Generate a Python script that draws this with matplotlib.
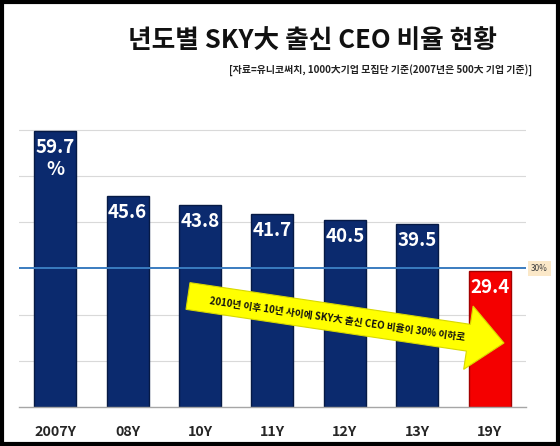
import matplotlib
matplotlib.use("Agg")
import matplotlib.pyplot as plt
from matplotlib.patches import FancyArrow, Rectangle

plt.rcParams['font.family'] = ['Noto Sans CJK KR', 'DejaVu Sans']

years = ['2007Y', '08Y', '10Y', '11Y', '12Y', '13Y', '19Y']
ratios = [59.7, 45.6, 43.8, 41.7, 40.5, 39.5, 29.4]
bar_colors = ['#0b2a6e'] * 6 + ['#f40000']
edge_colors = ['#061a45'] * 6 + ['#a30000']
value_labels = ['59.7\n%', '45.6', '43.8', '41.7', '40.5', '39.5', '29.4']
threshold = 30

title = '년도별 SKY大 출신 CEO 비율 현황'
subtitle = '[자료=유니코써치, 1000大기업 모집단 기준(2007년은 500大 기업 기준)]'
arrow_text = '2010년 이후 10년 사이에 SKY大 출신 CEO 비율이 30% 이하로'

fig = plt.figure(figsize=(5.6, 4.46), dpi=100)
ax = fig.add_axes([0.034, 0.0874, 0.905, 0.632])

x = range(len(years))
ax.bar(x, ratios, width=0.58, color=bar_colors, edgecolor=edge_colors,
       linewidth=1.0, zorder=2)

for i, (v, lab) in enumerate(zip(ratios, value_labels)):
    ax.annotate(lab, (i, v), xytext=(0, -5), textcoords='offset points',
                ha='center', va='top', color='white', fontsize=13.5,
                fontweight='bold', linespacing=1.2, zorder=3)

ax.set_xlim(-0.5, len(years) - 0.5)
ax.set_ylim(0, 61)
ax.set_yticks([10, 20, 40, 50, 60])
ax.yaxis.grid(True, color='#d9d9d9', linewidth=0.8, zorder=0)
ax.set_axisbelow(True)
ax.tick_params(axis='y', left=False, labelleft=False)
ax.tick_params(axis='x', length=0, pad=13)
ax.set_xticks(list(x))
ax.set_xticklabels(years, fontsize=10.3, fontweight='bold', color='#262626')
for s in ['top', 'right', 'left']:
    ax.spines[s].set_visible(False)
ax.spines['bottom'].set_color('#a6a6a6')
ax.spines['bottom'].set_linewidth(1.0)

# 30% reference line
ax.axhline(threshold, color='#3a7cc0', linewidth=1.4, zorder=4)
ax.text(1.01, threshold, '30%', transform=ax.get_yaxis_transform(),
        ha='left', va='center', fontsize=6, color='#404040',
        bbox=dict(boxstyle='square,pad=0.35', fc='#fbe8c8', ec='none'))

# titles
fig.text(0.888, 0.908, title, ha='right', va='center', fontsize=18.5,
         fontweight='bold', color='#111111')
fig.text(0.95, 0.843, subtitle, ha='right', va='center', fontsize=7.1,
         fontweight='bold', color='#222222')

# yellow arrow (figure inches)
tr = fig.dpi_scale_trans
arrow = FancyArrow(1.88, 1.50, 3.16, -0.47, width=0.27, head_width=0.64,
                   head_length=0.36, length_includes_head=True,
                   facecolor='#ffff00', edgecolor='#d8d800', linewidth=0.8,
                   transform=tr, zorder=10)
fig.patches.append(arrow)
fig.text(3.37, 1.27, arrow_text, transform=tr, rotation=-8.2,
         rotation_mode='anchor', ha='center', va='center', fontsize=7,
         fontweight='bold', color='#111111', zorder=11)

# outer frame
fig.patches.append(Rectangle((0.003, 0.004), 0.994, 0.992, transform=fig.transFigure,
                             fill=False, edgecolor='black', linewidth=3))

fig.savefig('out.png', dpi=100, facecolor='white')
